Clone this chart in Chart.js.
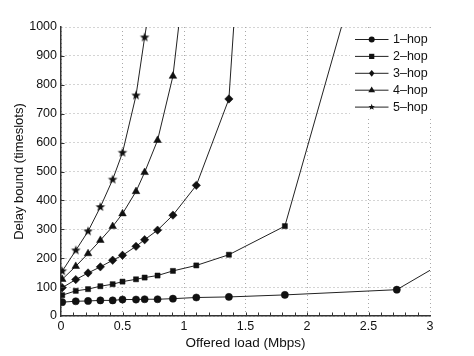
<!DOCTYPE html>
<html><head><meta charset="utf-8">
<script src="https://cdn.jsdelivr.net/npm/chart.js@4/dist/chart.umd.min.js"></script>
<style>html,body{margin:0;padding:0;background:#fff}canvas{display:block}</style>
</head><body>
<canvas id="c" width="474" height="356"></canvas>
<script>
const seriesNames = ['1–hop', '2–hop', '3–hop', '4–hop', '5–hop'];
const loads = [0.01, 0.12, 0.22, 0.32, 0.42, 0.5, 0.61, 0.68, 0.785, 0.91, 1.1, 1.365, 1.82, 2.73, 3.64];
const hop1 = [48, 51, 52, 54, 54, 57, 57, 58, 58, 60, 64, 66, 73, 91, 317];
const hop2 = [72, 87, 93, 103, 110, 119, 127, 133, 140, 156, 175, 212, 311, 1674];
const hop3 = [98, 126, 149, 170, 193, 210, 241, 264, 297, 349, 452, 751, 3656];
const hop4 = [127, 172, 216, 262, 310, 354, 431, 497, 608, 830, 1530];
const hop5 = [155, 227, 293, 377, 472, 565, 763, 964, 1250];
const xTickLabels = ['0', '0.5', '1', '1.5', '2', '2.5', '3'];
const yTickLabels = ['0', '100', '200', '300', '400', '500', '600', '700', '800', '900', '1000'];
const xTitle = 'Offered load (Mbps)';
const yTitle = 'Delay bound (timeslots)';

const FONT = "'Liberation Sans', Arial, Helvetica, sans-serif";
const INK = '#111';

function starPath(g, cx, cy, R) {
  g.beginPath();
  for (let i = 0; i < 10; i++) {
    const r = i % 2 ? R * 0.42 : R;
    const a = -Math.PI / 2 + i * Math.PI / 5;
    g.lineTo(cx + r * Math.cos(a), cy + r * Math.sin(a));
  }
  g.closePath();
}
function makeStar(R) {
  const c = document.createElement('canvas');
  const s = Math.ceil(R * 2 + 2);
  c.width = c.height = s;
  const g = c.getContext('2d');
  g.fillStyle = INK;
  starPath(g, s / 2, s / 2, R);
  g.fill();
  return c;
}
const starImg = makeStar(5);

const allSeries = [hop1, hop2, hop3, hop4, hop5];
const styles = [
  {pointStyle: 'circle', radius: 3.6, legendR: 3},
  {pointStyle: 'rect', radius: 3.6, legendR: 2.6},
  {pointStyle: 'rectRot', radius: 4.2, legendR: 3.4},
  {pointStyle: 'triangle', radius: 4.4, legendR: 3.6},
  {pointStyle: starImg, radius: 5, legendR: 3.4, star: true}
];

const datasets = allSeries.map((vals, i) => ({
  label: seriesNames[i],
  data: vals.map((v, k) => ({x: loads[k], y: v})),
  borderColor: '#222',
  borderWidth: 1,
  backgroundColor: INK,
  pointBackgroundColor: INK,
  pointBorderColor: INK,
  pointBorderWidth: 0.5,
  pointStyle: styles[i].pointStyle,
  pointRadius: styles[i].radius,
  tension: 0
}));

function drawMarker(ctx, st, x, y, r) {
  ctx.fillStyle = INK;
  ctx.beginPath();
  if (st.star) { starPath(ctx, x, y, r); }
  else if (st.pointStyle === 'circle') { ctx.arc(x, y, r, 0, Math.PI * 2); }
  else if (st.pointStyle === 'rect') { ctx.rect(x - r, y - r, 2 * r, 2 * r); }
  else if (st.pointStyle === 'rectRot') { ctx.moveTo(x, y - r); ctx.lineTo(x + r * 0.8, y); ctx.lineTo(x, y + r); ctx.lineTo(x - r * 0.8, y); ctx.closePath(); }
  else if (st.pointStyle === 'triangle') { ctx.moveTo(x, y - r); ctx.lineTo(x + r * 0.95, y + r * 0.6); ctx.lineTo(x - r * 0.95, y + r * 0.6); ctx.closePath(); }
  ctx.fill();
}

const decor = {
  id: 'decor',
  afterDatasetsDraw(chart) {
    const {ctx, chartArea: a, scales: {x, y}} = chart;
    ctx.save();
    // inward minor ticks
    ctx.strokeStyle = '#333';
    ctx.lineWidth = 1;
    ctx.beginPath();
    for (let i = 1; i < 30; i++) {
      const px = Math.round(x.getPixelForValue(i / 10)) + 0.5;
      ctx.moveTo(px, a.bottom);
      ctx.lineTo(px, a.bottom - 3.5);
    }
    for (let v = 100; v < 1000; v += 100) {
      const py = Math.round(y.getPixelForValue(v)) + 0.5;
      ctx.moveTo(a.left, py);
      ctx.lineTo(a.left + 3.5, py);
    }
    ctx.stroke();
    // legend
    const bx = a.right - 80, by = a.top + 1.5;
    ctx.fillStyle = '#fff';
    ctx.fillRect(bx, by, 82, 88);
    ctx.font = '12.5px ' + FONT;
    ctx.textBaseline = 'middle';
    ctx.textAlign = 'left';
    chart.data.datasets.forEach((ds, i) => {
      const ry = a.top + 12 + 16.9 * i;
      ctx.strokeStyle = '#222';
      ctx.lineWidth = 1;
      ctx.beginPath();
      ctx.moveTo(a.right - 75, ry + 0.5);
      ctx.lineTo(a.right - 41.5, ry + 0.5);
      ctx.stroke();
      drawMarker(ctx, styles[i], a.right - 58.3, ry + 0.5, styles[i].legendR);
      ctx.fillStyle = INK;
      ctx.fillText(ds.label, a.right - 37, ry + 0.5);
    });
    ctx.restore();
  }
};

new Chart(document.getElementById('c'), {
  type: 'line',
  data: {datasets},
  options: {
    responsive: false,
    animation: false,
    devicePixelRatio: 1,
    layout: {padding: {top: 27, right: 44, left: 0, bottom: 0}},
    plugins: {legend: {display: false}, tooltip: {enabled: false}},
    scales: {
      x: {
        type: 'linear', min: 0, max: 3,
        afterFit(s) { s.height = 40; },
        ticks: {stepSize: 0.5, padding: 3, color: INK, font: {family: FONT, size: 12.5},
          callback: (v) => { const i = Math.round(v * 2); return xTickLabels[i] !== undefined && Math.abs(v * 2 - i) < 1e-6 ? xTickLabels[i] : ''; }},
        grid: {color: '#a8a8a8', lineWidth: 1, drawTicks: false},
        border: {color: '#333', width: 1.5, dash: [1, 3]},
        title: {display: true, text: xTitle, color: INK, font: {family: FONT, size: 13.5}, padding: {top: 0, bottom: 5}}
      },
      y: {
        min: 0, max: 1000,
        afterFit(s) { s.width = 61; },
        ticks: {stepSize: 100, padding: 4, color: INK, font: {family: FONT, size: 12.5},
          callback: (v) => { const i = Math.round(v / 100); return yTickLabels[i] !== undefined ? yTickLabels[i] : ''; }},
        grid: {color: '#a8a8a8', lineWidth: 1, drawTicks: false},
        border: {color: '#333', width: 1.5, dash: [1, 3]},
        title: {display: true, text: yTitle, color: INK, font: {family: FONT, size: 13}, padding: {top: 12, bottom: 0}}
      }
    }
  },
  plugins: [decor]
});
</script>
</body></html>
